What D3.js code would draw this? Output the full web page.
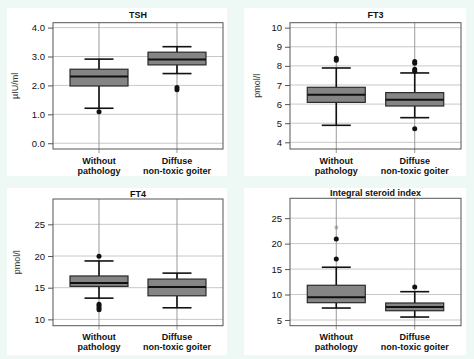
<!DOCTYPE html>
<html><head><meta charset="utf-8">
<script src="https://cdn.jsdelivr.net/npm/d3@7"></script>
<style>
body{margin:0;background:#eef8f4;}
svg{display:block;font-family:"Liberation Sans",Arial,sans-serif;}
</style></head>
<body><svg id="c" width="474" height="359"></svg>
<script>
const categories = ["Without pathology", "Diffuse non-toxic goiter"];
const catLines = [["Without", "pathology"], ["Diffuse", "non-toxic goiter"]];
const titles = ["TSH", "FT3", "FT4", "Integral steroid index"];
const yLabels = ["µIU/ml", "pmol/l", "pmol/l", ""];
// [lower whisker, Q1, median, Q3, upper whisker]
const tshStats = [[1.21, 1.98, 2.31, 2.56, 2.91], [2.41, 2.71, 2.90, 3.15, 3.34]];
const tshOut = [[1.09], [1.93, 1.85]];
const ft3Stats = [[4.89, 6.09, 6.49, 6.88, 7.89], [5.29, 5.90, 6.23, 6.60, 7.63]];
const ft3Out = [[8.30, 8.40], [4.71, 7.72, 7.83, 8.14, 8.23]];
const ft4Stats = [[13.35, 15.2, 15.73, 16.85, 19.22], [11.83, 13.72, 15.1, 16.36, 17.3]];
const ft4Out = [[19.95, 12.4, 12.1, 11.8, 11.5], []];
const isiStats = [[7.35, 8.4, 9.46, 11.82, 15.36], [5.58, 6.82, 7.55, 8.34, 10.56]];
const isiOut = [[17.0, 20.9], [11.48]];
const isiExtreme = [[22.9], []];
const tshTicks = [0, 1, 2, 3, 4];
const ft3Ticks = [4, 5, 6, 7, 8, 9, 10];
const ft4Ticks = [10, 15, 20, 25];
const isiTicks = [5, 10, 15, 20, 25];

const panels = [
  {stats: tshStats, out: tshOut, ext: [[], []], ticks: tshTicks, fmt: d3.format(".1f"), dom: [-0.2, 4.17],
   box: [7, 8, 220, 168], plot: [53, 22.7, 223, 149], title: 18, xl: 163.5, yl: 15},
  {stats: ft3Stats, out: ft3Out, ext: [[], []], ticks: ft3Ticks, fmt: d3.format("d"), dom: [3.65, 10.26],
   box: [244, 8, 222, 168], plot: [290, 22.7, 461, 149], title: 18, xl: 163.5, yl: 257},
  {stats: ft4Stats, out: ft4Out, ext: [[], []], ticks: ft4Ticks, fmt: d3.format("d"), dom: [9, 29],
   box: [7, 188, 220, 167], plot: [53, 199, 223, 325.7], title: 196.5, xl: 340, yl: 17},
  {stats: isiStats, out: isiOut, ext: isiExtreme, ticks: isiTicks, fmt: d3.format("d"), dom: [3.88, 28.9],
   box: [244, 188, 222, 167], plot: [290, 198.3, 461, 325.7], title: 196, xl: 340, yl: 0}
];

const svg = d3.select("#c");
panels.forEach((p, i) => {
  const [bx, by, bw, bh] = p.box;
  svg.append("rect").attr("x", bx).attr("y", by).attr("width", bw).attr("height", bh).attr("fill", "#fff");
  const [x0, y0, x1, y1] = p.plot;
  const x = d3.scalePoint().domain(categories).range([x0, x1]).padding(0.59);
  const y = d3.scaleLinear().domain(p.dom).range([y1, y0]);
  const g = svg.append("g");
  g.selectAll(".hg").data(p.ticks).join("line")
    .attr("x1", x0).attr("x2", x1).attr("y1", d => y(d)).attr("y2", d => y(d))
    .attr("stroke", "#c8c8c8").attr("stroke-width", 1);
  g.selectAll(".vg").data(categories).join("line")
    .attr("x1", d => x(d)).attr("x2", d => x(d)).attr("y1", y0).attr("y2", y1 + 4)
    .attr("stroke", "#9a9a9a").attr("stroke-width", 1);
  g.append("rect").attr("x", x0).attr("y", y0).attr("width", x1 - x0).attr("height", y1 - y0)
    .attr("fill", "none").attr("stroke", "#555").attr("stroke-width", 1);
  const ax = g.append("g").attr("transform", `translate(${x0},0)`)
    .call(d3.axisLeft(y).tickValues(p.ticks).tickFormat(p.fmt).tickSize(5).tickPadding(3));
  ax.select(".domain").remove();
  ax.selectAll(".tick line").attr("stroke", "#555");
  ax.selectAll(".tick text").attr("fill", "#111").attr("font-size", 9.5).attr("font-family", "Liberation Sans, Arial, sans-serif");
  const bwid = 58, cap = 29;
  categories.forEach((c, k) => {
    const [lo, q1, md, q3, hi] = p.stats[k];
    const cx = x(c);
    g.append("line").attr("x1", cx).attr("x2", cx).attr("y1", y(hi)).attr("y2", y(q3)).attr("stroke", "#111").attr("stroke-width", 1.6);
    g.append("line").attr("x1", cx).attr("x2", cx).attr("y1", y(q1)).attr("y2", y(lo)).attr("stroke", "#111").attr("stroke-width", 1.6);
    [hi, lo].forEach(v => g.append("line").attr("x1", cx - cap / 2).attr("x2", cx + cap / 2).attr("y1", y(v)).attr("y2", y(v)).attr("stroke", "#111").attr("stroke-width", 1.6));
    g.append("rect").attr("x", cx - bwid / 2).attr("y", y(q3)).attr("width", bwid).attr("height", y(q1) - y(q3))
      .attr("fill", "#858585").attr("stroke", "#2a2a2a").attr("stroke-width", 1.2);
    g.append("line").attr("x1", cx - bwid / 2).attr("x2", cx + bwid / 2).attr("y1", y(md)).attr("y2", y(md)).attr("stroke", "#111").attr("stroke-width", 2);
    g.selectAll(null).data(p.out[k]).join("circle").attr("cx", cx).attr("cy", d => y(d)).attr("r", 2.5).attr("fill", "#111");
    g.selectAll(null).data(p.ext[k]).join("text").attr("x", cx).attr("y", d => y(d) + 5).attr("text-anchor", "middle")
      .attr("font-size", 12).attr("fill", "#888").text("*");
    catLines[k].forEach((t, j) => g.append("text").attr("x", cx).attr("y", p.xl + j * 10).attr("text-anchor", "middle")
      .attr("font-size", 9).attr("font-weight", "bold").attr("fill", "#111").text(t));
  });
  g.append("text").attr("x", (x0 + x1) / 2).attr("y", p.title).attr("text-anchor", "middle")
    .attr("font-size", 9).attr("font-weight", "bold").attr("fill", "#111").text(titles[i]);
  if (yLabels[i]) {
    g.append("text").attr("transform", `translate(${p.yl + 3},${(y0 + y1) / 2}) rotate(-90)`).attr("text-anchor", "middle")
      .attr("font-size", 9).attr("fill", "#333").text(yLabels[i]);
  }
});
</script></body></html>
